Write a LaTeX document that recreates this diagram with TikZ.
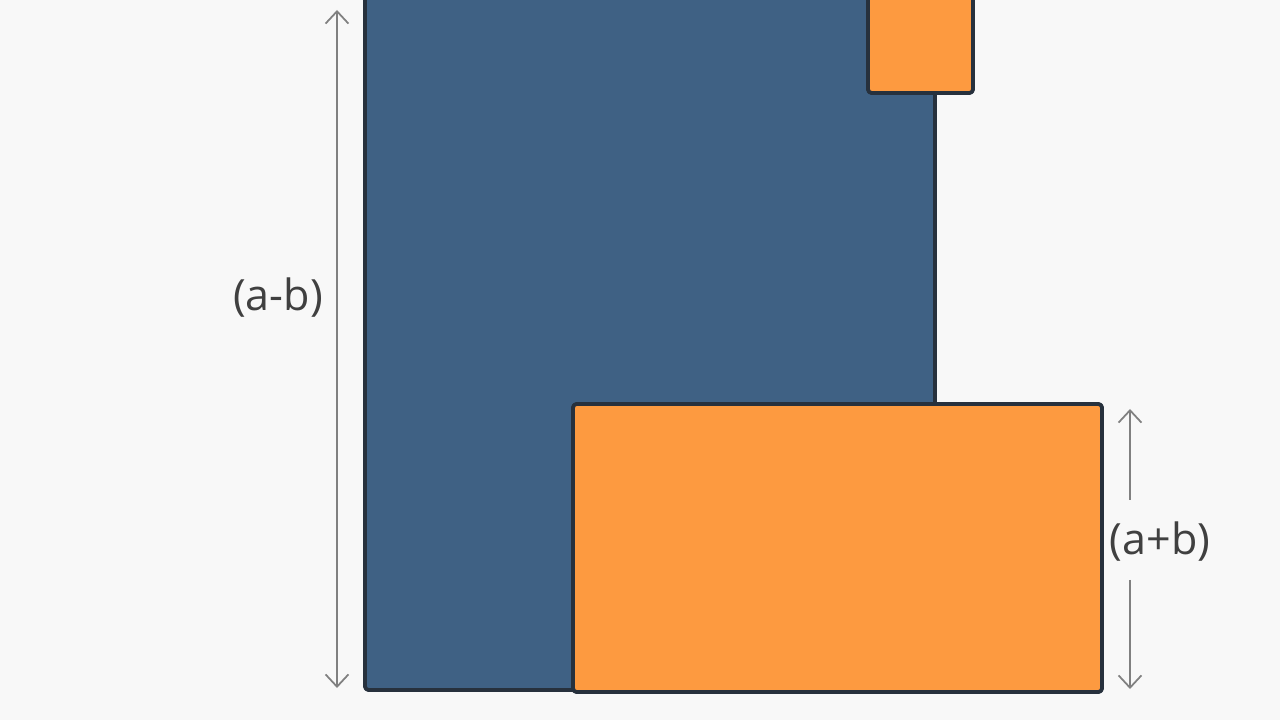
\documentclass[tikz,border=0pt]{standalone}
\usepackage{fontspec}
\setmainfont{Open Sans}
\usepackage{tikz}
\usetikzlibrary{arrows.meta}
\definecolor{sqblue}{HTML}{3F6184}
\definecolor{sqorange}{HTML}{FD9A40}
\definecolor{sqedge}{HTML}{27313D}
\definecolor{sqbg}{HTML}{F8F8F8}

\begin{document}
\begin{tikzpicture}[line join=round]
        \tikzstyle{sqpiece}=[
            draw=sqedge,
            line width=2.2pt,
            rounded corners=2pt
        ]
        \tikzstyle{sqdim}=[
            draw=gray,
            line width=1pt,
            -{Straight Barb[length=7pt,width=13pt]}
        ]
        \tikzstyle{sqlabel}=[
            text=black!75,
            font=\fontsize{24.5}{28}\selectfont,
            inner sep=6pt
        ]

        \fill[sqbg] (0,0) rectangle (25.6,14.4);
        \useasboundingbox (0,0) rectangle (25.6,14.4);
        \clip (0,0) rectangle (25.6,14.4);

        % the pieces
        \draw[sqpiece, fill=sqblue] (7.3,0.6) rectangle (18.7,15);
        \draw[sqpiece, fill=sqorange] (17.36,12.54) rectangle (19.46,15);
        \draw[sqpiece, fill=sqorange] (11.46,0.56) rectangle (22.04,6.32);

        % dimension marks
        \coordinate (LT) at (6.74,14.2);
        \coordinate (LB) at (6.74,0.64);
        \coordinate (RT) at (22.6,6.22);
        \coordinate (RB) at (22.6,0.62);
        \coordinate (RM1) at (22.6,4.4);
        \coordinate (RM2) at (22.6,2.8);

        \node[sqlabel] (amb) at (5.56,8.44) {(a-b)};
        \node[sqlabel] (apb) at (23.2,3.56) {(a+b)};

        \draw[sqdim, {Straight Barb[length=7pt,width=13pt]}-{Straight Barb[length=7pt,width=13pt]}] (LT) -- (LB);
        \draw[sqdim] (RM1) -- (RT);
        \draw[sqdim] (RM2) -- (RB);

    \end{tikzpicture}
\end{document}
